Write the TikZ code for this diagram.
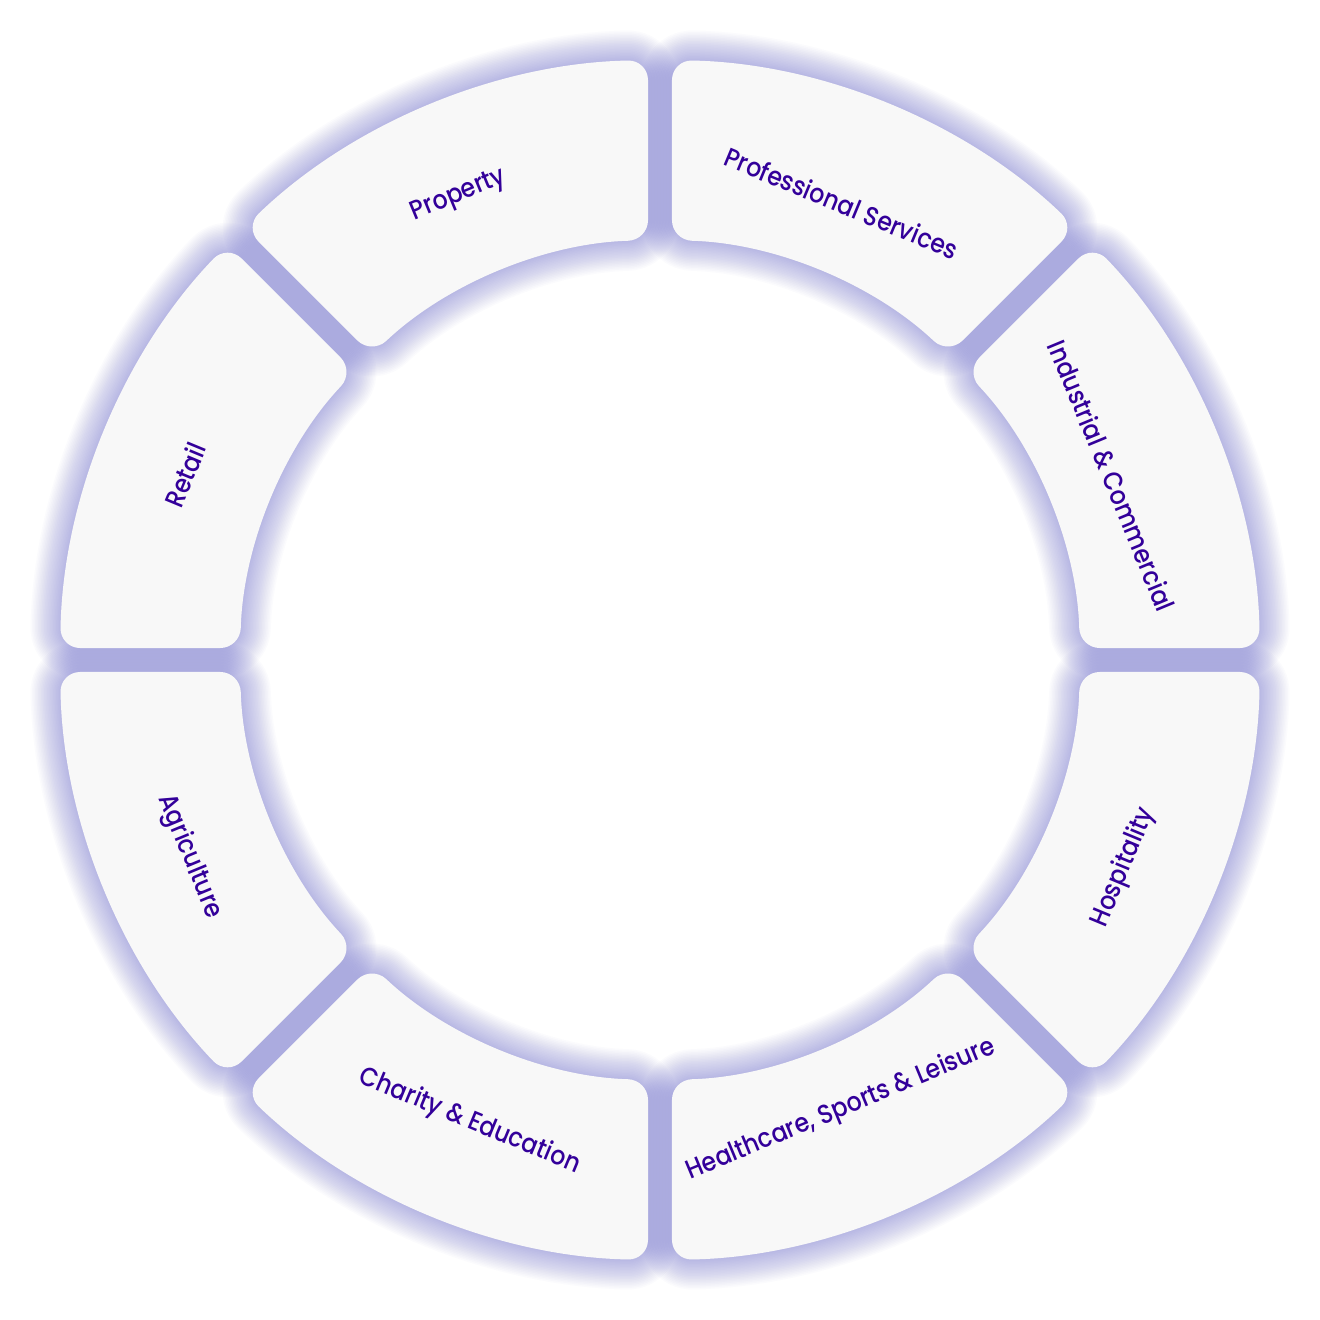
\documentclass[tikz,border=0pt]{standalone}
\usepackage{fontspec}
\IfFontExistsTF{Poppins Medium}
  {\newfontfamily\labfont{Poppins Medium}[FakeStretch=0.89]}
  {\newfontfamily\labfont{Poppins}[FakeStretch=0.89,FakeBold=1.2]}
\definecolor{segfill}{HTML}{F8F8F8}
\definecolor{glowc}{RGB}{90,90,200}
\definecolor{txt}{HTML}{33009A}
\tikzset{
  glowline/.style={draw=glowc, draw opacity=0.025, line join=round, rounded corners=20pt},
  segbox/.style={fill=segfill, rounded corners=20pt},
  lab/.style={font=\labfont\fontsize{26.5}{30}\selectfont, text=txt, inner sep=0pt}
}
\begin{document}
\begin{tikzpicture}[x=1pt,y=1pt]
\useasboundingbox (-660,-660) rectangle (660,660);
\fill[white] (-660,-660) rectangle (660,660);
\def\Ro{600}
\def\Ri{420}
% glow
\foreach \a in {0,45,...,315} {
  \foreach \d in {1.5,3,...,30} {
    \path[glowline, line width=2*\d]
      (\a+1.146:\Ro) arc[start angle=\a+1.146, end angle=\a+43.854, radius=\Ro]
      -- (\a+43.363:\Ri) arc[start angle=\a+43.363, end angle=\a+1.637, radius=\Ri]
      -- cycle;
  }
}
% segments
\foreach \a in {0,45,...,315} {
  \path[segbox]
    (\a+1.146:\Ro) arc[start angle=\a+1.146, end angle=\a+43.854, radius=\Ro]
    -- (\a+43.363:\Ri) arc[start angle=\a+43.363, end angle=\a+1.637, radius=\Ri]
    -- cycle;
}
% labels
\node[lab, rotate=22.5]  (property) at (113.4:506) {Property};
\node[lab, rotate=-22.5] (prof)     at (68.3:492)  {Professional Services};
\node[lab, rotate=-67.5] (indus)    at (22.2:488)  {Industrial \& Commercial};
\node[lab, rotate=67.5]  (hosp)     at (-24.1:508) {Hospitality};
\node[lab, rotate=22.5]  (health)   at (-68.1:485) {Healthcare, Sports \& Leisure};
\node[lab, rotate=-22.5] (charity)  at (-112.4:499) {Charity \& Education};
\node[lab, rotate=-67.5] (agri)     at (-157.3:510) {Agriculture};
\node[lab, rotate=67.5]  (retail)   at (158.7:510) {Retail};
\end{tikzpicture}
\end{document}
